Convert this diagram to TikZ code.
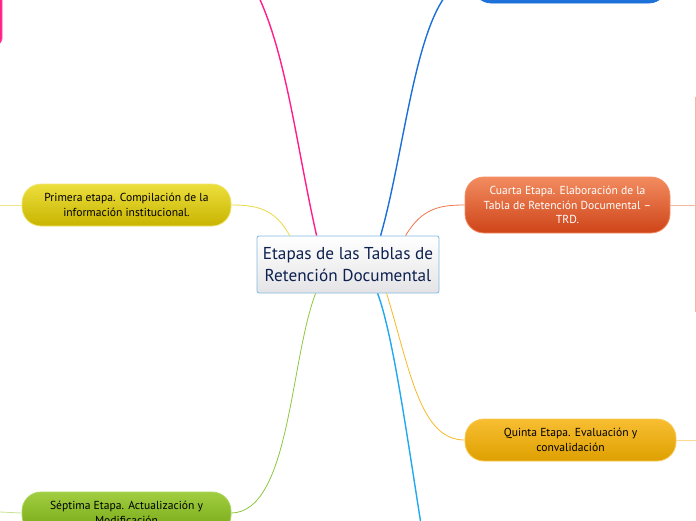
\documentclass[tikz,border=0pt]{standalone}
\usepackage{fontspec}
\setmainfont{PT Sans}
\definecolor{pinkc}{HTML}{FF1E8C}
\definecolor{bluec}{HTML}{1A6FD8}
\definecolor{orangec}{HTML}{F2764E}
\definecolor{greenc}{HTML}{8DC63F}
\definecolor{cyanc}{HTML}{20A8F0}
\definecolor{goldc}{HTML}{F7B825}
\definecolor{yellowc}{HTML}{E8DA40}
\definecolor{navy}{HTML}{0D2050}
\definecolor{cborder}{HTML}{7FB8E0}
\definecolor{cbottom}{HTML}{E4E4E6}
\definecolor{p1top}{HTML}{ECDE3C}
\definecolor{p1bot}{HTML}{C8B400}
\definecolor{p1brd}{HTML}{F0E46E}
\definecolor{p4top}{HTML}{F28C60}
\definecolor{p4bot}{HTML}{CE4418}
\definecolor{p4brd}{HTML}{F68C64}
\definecolor{p5top}{HTML}{F8BE32}
\definecolor{p5bot}{HTML}{DEA000}
\definecolor{p5brd}{HTML}{FAC850}
\definecolor{p7top}{HTML}{A0CE40}
\definecolor{p7bot}{HTML}{74A614}
\definecolor{p7brd}{HTML}{AAD45A}
\definecolor{s4}{HTML}{F4B8A0}
\definecolor{s5}{HTML}{FCD890}
\definecolor{s1}{HTML}{F0E690}
\definecolor{s7}{HTML}{C8E490}
\tikzset{
  stage/.style={rounded corners=19pt, line width=0.8pt, align=center, inner sep=0pt,
    font=\fontsize{11.6}{14.5}\selectfont},
  central/.style={rounded corners=2pt, draw=cborder, line width=0.8pt,
    top color=white, bottom color=cbottom, align=center,
    text=navy, font=\fontsize{17.2}{22.5}\selectfont, inner sep=0pt},
  branch/.style={line width=1.4pt},
  stub/.style={line width=0.8pt},
}
\begin{document}
\begin{tikzpicture}[x=1pt,y=-1pt]
\useasboundingbox (0,0) rectangle (696,520);
\clip (0,0) rectangle (696,520);
% central
\node[central, minimum width=182pt, minimum height=57pt] (c) at (348,264.5)
  {Etapas de las Tablas de\\Retención Documental};
% off-picture nodes
\node[rounded corners=5pt, line width=0.8pt, minimum width=204pt, minimum height=84pt, fill=pinkc, draw=pinkc!80!white] (pk) at (-100,2) {};
\node[stage, minimum width=195pt, minimum height=46pt, top color=bluec!70!white, bottom color=bluec, draw=bluec] (bl) at (570,-20) {};
\coordinate (pkend) at (250,-20);
% stage nodes
\node[stage, minimum width=209pt, minimum height=42pt, top color=p1top,
  bottom color=p1bot, draw=p1brd] (p1) at (126.5,205)
  {Primera etapa. Compilación de la\\información institucional.};
\node[stage, minimum width=205pt, minimum height=56pt, text=white, top color=p4top,
  bottom color=p4bot, draw=p4brd] (p4) at (567.5,205)
  {Cuarta Etapa. Elaboración de la\\Tabla de Retención Documental –\\TRD.};
\node[stage, minimum width=211pt, minimum height=42pt, top color=p5top,
  bottom color=p5bot, draw=p5brd] (p5) at (570.5,440)
  {Quinta Etapa. Evaluación y\\convalidación};
\node[stage, minimum width=209pt, minimum height=42pt, top color=p7top,
  bottom color=p7bot, draw=p7brd] (p7) at (126.5,513)
  {Séptima Etapa. Actualización y\\Modificación};
\coordinate (cyend) at (430,580);
\coordinate (r4) at (695,205);
\coordinate (r4a) at (695,97);
\coordinate (r4b) at (695,312);
\coordinate (r5) at (696,440);
\coordinate (l1) at (0,205);
\coordinate (l7) at (0,512);
% branches
\draw[branch, pinkc] ([xshift=60pt]c.north west) .. controls (295,140) and (285,40) .. (pkend);
\draw[branch, bluec] ([xshift=124pt]c.north west) .. controls (408,140) and (418,-20) .. (bl.west);
\draw[stub, yellowc] ([xshift=33pt]c.north west) .. controls (275,208) and (255,205) .. (p1.east);
\draw[stub, orangec] ([xshift=149pt]c.north west) .. controls (422,208) and (440,205) .. (p4.west);
\draw[stub, greenc] ([xshift=59pt]c.south west) .. controls (290,360) and (290,512) .. (p7.east);
\draw[branch, cyanc] ([xshift=121pt]c.south west) .. controls (395,340) and (410,460) .. (cyend);
\draw[stub, goldc] ([xshift=130pt]c.south west) .. controls (410,370) and (420,440) .. (p5.west);
% stubs to outer nodes
\draw[stub, s4] (p4.east) -- (r4);
\draw[stub, s4] (r4a) -- (r4b);
\draw[stub, s5] (p5.east) -- (r5);
\draw[stub, s1] (p1.west) -- (l1);
\draw[stub, s7] (p7.west) -- (l7);
\end{tikzpicture}
\end{document}
